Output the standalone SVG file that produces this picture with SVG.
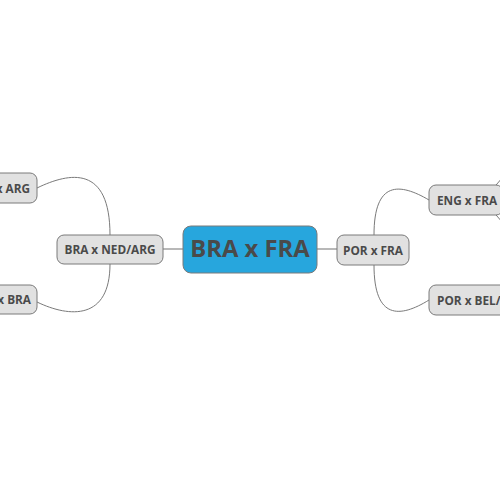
<svg xmlns="http://www.w3.org/2000/svg" width="500" height="500" viewBox="0 0 500 500">
<style>
.n rect{fill:#e1e1e1;stroke:#7a7a7a;stroke-width:1}
.n text{font-family:"Open Sans","Liberation Sans",sans-serif;font-weight:bold;font-size:11.8px;fill:#4a4a4a}
.c{fill:none;stroke:#7a7a7a;stroke-width:1}
.h{fill:none;stroke:#a0a0a0;stroke-width:1.5}
</style>
<rect width="500" height="500" fill="#ffffff"/>
<g id="connectors">
<line class="h" x1="163" y1="249" x2="183" y2="249"/>
<line class="h" x1="317" y1="249" x2="337" y2="249"/>
<path class="c" d="M110,235 C110,165 70,172 37,188"/>
<path class="c" d="M110,264 C110,320 70,318 37,302"/>
<path class="c" d="M374,235 C374,180 400,183 429,200"/>
<path class="c" d="M374,265 C374,320 400,318 429,300"/>
<path class="c" d="M490,192 L503,177"/>
<path class="c" d="M490,208 L503,223"/>
</g>
<g id="center" class="n">
<rect x="183" y="226" width="134" height="47" rx="8" style="fill:#27a6dd;stroke:#7a7a7a"/>
<text x="250" y="256.5" text-anchor="middle" style="font-size:23.8px">BRA x FRA</text>
</g>
<g id="bra-ned-arg" class="n">
<rect x="57" y="235" width="106" height="29" rx="7"/>
<text x="110" y="253.5" text-anchor="middle">BRA x NED/ARG</text>
</g>
<g id="x-arg" class="n">
<rect x="-40" y="173" width="77" height="30" rx="7"/>
<text x="30" y="192.5" text-anchor="end">x ARG</text>
</g>
<g id="x-bra" class="n">
<rect x="-40" y="285" width="77" height="29" rx="7"/>
<text x="31" y="303.5" text-anchor="end">x BRA</text>
</g>
<g id="por-fra" class="n">
<rect x="337" y="235" width="72" height="30" rx="7"/>
<text x="373" y="254.5" text-anchor="middle">POR x FRA</text>
</g>
<g id="eng-fra" class="n">
<rect x="429" y="185" width="74" height="30" rx="7"/>
<text x="437" y="204.5">ENG x FRA</text>
</g>
<g id="por-bel" class="n">
<rect x="429" y="285" width="110" height="30" rx="7"/>
<text x="437" y="304.5">POR x BEL/</text>
</g>
</svg>
